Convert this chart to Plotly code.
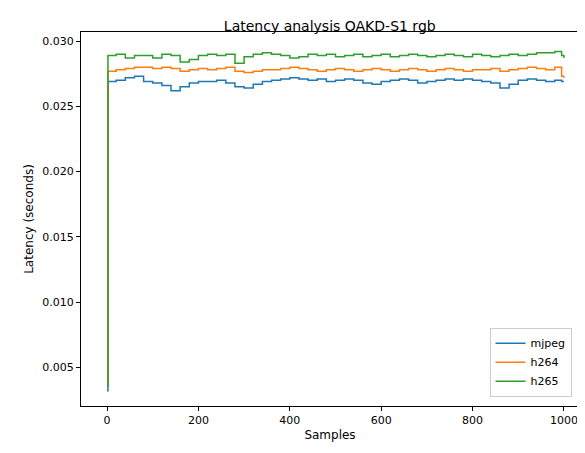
import plotly.graph_objects as go

samples = [0, 2, 20, 40, 60, 80, 100, 120, 140, 160, 180, 200, 220, 240, 260, 280, 300, 320, 340, 360, 380, 400, 420, 440, 460, 480, 500, 520, 540, 560, 580, 600, 620, 640, 660, 680, 700, 720, 740, 760, 780, 800, 820, 840, 860, 880, 900, 920, 940, 960, 980, 995, 1000]
mjpeg = [0.0032, 0.0269, 0.0270, 0.0272, 0.0273, 0.0269, 0.0268, 0.0266, 0.0262, 0.0265, 0.0268, 0.0269, 0.0269, 0.0270, 0.0268, 0.0265, 0.0264, 0.0267, 0.0269, 0.0270, 0.0271, 0.0272, 0.0271, 0.0270, 0.0271, 0.0269, 0.0270, 0.0271, 0.0270, 0.0268, 0.0267, 0.0269, 0.0270, 0.0271, 0.0270, 0.0268, 0.0269, 0.0270, 0.0271, 0.0270, 0.0271, 0.0270, 0.0269, 0.0268, 0.0264, 0.0267, 0.0270, 0.0271, 0.0270, 0.0269, 0.0270, 0.0269, 0.0269]
h264 = [0.0038, 0.0277, 0.0278, 0.0279, 0.0280, 0.0280, 0.0279, 0.0280, 0.0279, 0.0277, 0.0278, 0.0279, 0.0278, 0.0279, 0.0280, 0.0277, 0.0276, 0.0277, 0.0278, 0.0278, 0.0279, 0.0280, 0.0279, 0.0278, 0.0277, 0.0278, 0.0279, 0.0278, 0.0277, 0.0278, 0.0279, 0.0278, 0.0277, 0.0278, 0.0279, 0.0278, 0.0277, 0.0278, 0.0279, 0.0278, 0.0277, 0.0278, 0.0278, 0.0279, 0.0277, 0.0278, 0.0279, 0.0280, 0.0279, 0.0278, 0.0280, 0.0273, 0.0272]
h265 = [0.0036, 0.0289, 0.0290, 0.0287, 0.0289, 0.0289, 0.0287, 0.0290, 0.0289, 0.0284, 0.0286, 0.0289, 0.0290, 0.0289, 0.0290, 0.0283, 0.0288, 0.0290, 0.0291, 0.0290, 0.0289, 0.0287, 0.0288, 0.0290, 0.0289, 0.0290, 0.0288, 0.0289, 0.0290, 0.0288, 0.0289, 0.0290, 0.0288, 0.0289, 0.0290, 0.0289, 0.0288, 0.0289, 0.0290, 0.0289, 0.0288, 0.0290, 0.0289, 0.0288, 0.0289, 0.0290, 0.0289, 0.0290, 0.0291, 0.0291, 0.0292, 0.0289, 0.0287]

fig = go.Figure()
for name, ys, c in [("mjpeg", mjpeg, "#1f77b4"), ("h264", h264, "#ff7f0e"), ("h265", h265, "#2ca02c")]:
    fig.add_trace(go.Scatter(x=samples, y=ys, name=name, mode="lines", line=dict(color=c, width=1.5, shape="hv")))

ax = dict(showgrid=False, zeroline=False, showline=True, linecolor="black", mirror=True,
          ticks="outside", ticklen=4, tickcolor="black", tickfont=dict(size=11, color="black"))
fig.update_layout(
    width=585, height=453, plot_bgcolor="white", paper_bgcolor="white",
    font=dict(family="DejaVu Sans", color="black"),
    margin=dict(l=73, r=14, t=24, b=55),
    title=dict(text="Latency analysis OAKD-S1 rgb", x=0.55, xanchor="center", y=0.97, font=dict(size=14)),
    xaxis=dict(ax, range=[-57, 1033], tickvals=[0, 200, 400, 600, 800, 1000],
               title=dict(text="Samples", font=dict(size=12), standoff=4)),
    yaxis=dict(ax, range=[0.00203, 0.0307], tickvals=[0.005, 0.010, 0.015, 0.020, 0.025, 0.030],
               tickformat=".3f", title=dict(text="Latency (seconds)", font=dict(size=12), standoff=6)),
    legend=dict(x=0.985, y=0.025, xanchor="right", yanchor="bottom", bordercolor="#cccccc",
                borderwidth=1, font=dict(size=11)),
)
fig.write_html("out.html")
